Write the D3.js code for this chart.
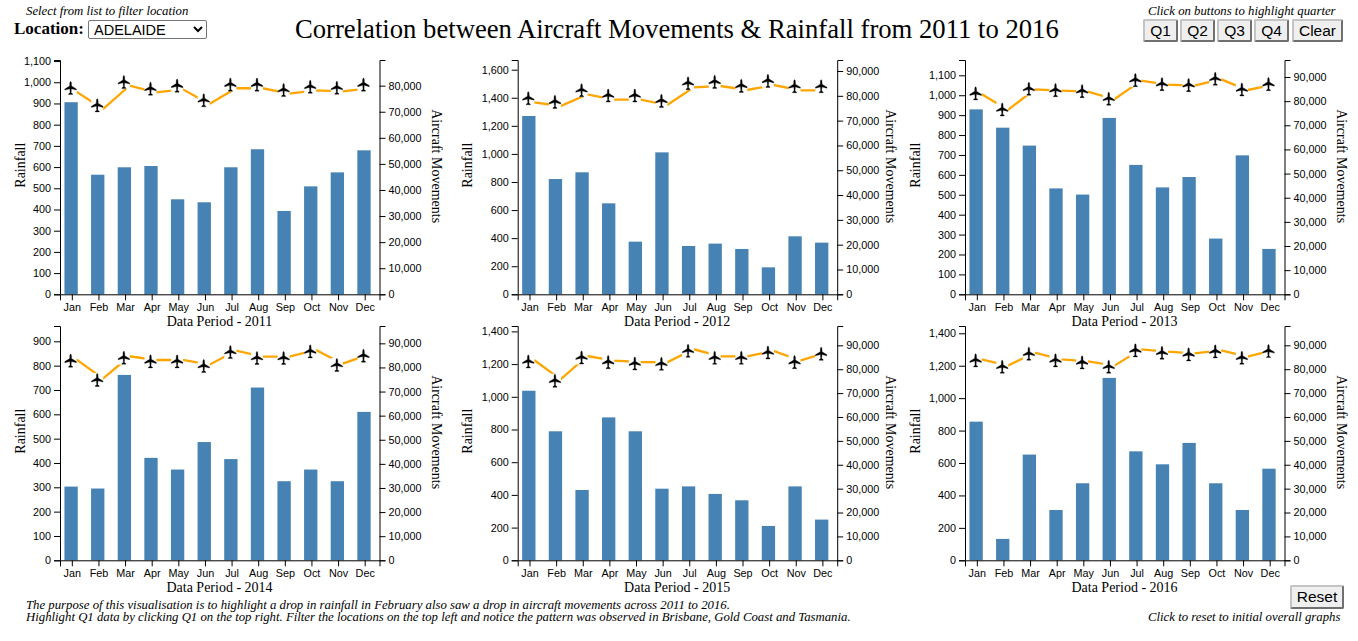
<!DOCTYPE html>
<html>
<head>
<meta charset="utf-8">
<script src="https://d3js.org/d3.v7.min.js"></script>
<style>
html,body{margin:0;padding:0;background:#fff;width:1358px;height:641px;overflow:hidden}
#chart{position:absolute;left:0;top:0}
.t{position:absolute;font-family:"Liberation Serif","Times New Roman",serif;white-space:nowrap;color:#000}
.i{font-style:italic;font-size:12.77px;line-height:12px}
button,select{position:absolute;font-family:"Liberation Sans",Arial,sans-serif;box-sizing:border-box;padding:0;margin:0}
button{background:#efefef;border:2px outset #c4c4c4;font-size:15.5px;color:#000;border-radius:2px}
select{font-size:14.5px;background:#fff;border:1px solid #767676;border-radius:2px;padding-left:1px;color:#000}
.tick text{font-family:"Liberation Sans",Arial,sans-serif;font-size:10.8px;fill:#000}
.lab{font-family:"Liberation Serif","Times New Roman",serif;font-size:14px;fill:#000}
</style>
</head>
<body>
<svg id="chart" width="1358" height="641"></svg>
<div class="t i" style="left:26px;top:5px">Select from list to filter location</div>
<div class="t" style="left:14px;top:19px;font-weight:bold;font-size:17px">Location:</div>
<select id="loc" style="left:88px;top:20px;width:119px;height:19px"><option>ADELAIDE</option></select>
<div class="t" id="title" style="left:295px;top:14px;font-size:26.67px">Correlation between Aircraft Movements &amp; Rainfall from 2011 to 2016</div>
<div class="t i" style="left:1148px;top:5px">Click on buttons to highlight quarter</div>
<button style="left:1143px;top:19px;width:35px;height:23px">Q1</button>
<button style="left:1180px;top:19px;width:35px;height:23px">Q2</button>
<button style="left:1217px;top:19px;width:35px;height:23px">Q3</button>
<button style="left:1254px;top:19px;width:35px;height:23px">Q4</button>
<button style="left:1292px;top:19px;width:51px;height:23px">Clear</button>
<button style="left:1290px;top:585px;width:54px;height:24px">Reset</button>
<div class="t i" style="left:26px;top:599px">The purpose of this visualisation is to highlight a drop in rainfall in February also saw a drop in aircraft movements across 2011 to 2016.</div>
<div class="t i" style="left:26px;top:611px">Highlight Q1 data by clicking Q1 on the top right. Filter the locations on the top left and notice the pattern was observed in Brisbane, Gold Coast and Tasmania.</div>
<div class="t i" style="left:1148px;top:611px">Click to reset to initial overall graphs</div>
<script>
const months = ["Jan","Feb","Mar","Apr","May","Jun","Jul","Aug","Sep","Oct","Nov","Dec"];
const years = [2011,2012,2013,2014,2015,2016];

const rainfall2011 = [906,564,599,605,448,434,599,684,393,509,575,679];
const rainfall2012 = [1270,821,869,648,375,1011,344,361,323,192,413,368];
const rainfall2013 = [929,837,747,532,501,886,650,537,589,280,698,228];
const rainfall2014 = [303,295,762,421,373,486,416,710,325,373,325,610];
const rainfall2015 = [1037,789,430,874,789,438,452,406,367,210,452,249];
const rainfall2016 = [855,132,652,310,475,1125,672,592,724,475,310,565];

const movements2011 = [77700,71050,80000,77440,78600,73000,79000,79000,76930,78200,77800,79000];
const movements2012 = [77370,75900,80600,78450,78450,76300,83420,83960,82350,84360,82210,82210];
const movements2013 = [82970,76340,84900,84340,83930,80760,88490,86830,86420,89040,84620,86830];
const movements2014 = [83370,75350,84610,83090,83090,81160,86960,84470,84470,87240,81570,85440];
const movements2015 = [83860,75770,85530,83580,83020,82880,88320,85390,85390,87630,83580,87070];
const movements2016 = [84140,81490,86930,84140,83300,81490,88320,87350,86650,87900,85250,88040];

const rainfallSeries = [rainfall2011,rainfall2012,rainfall2013,rainfall2014,rainfall2015,rainfall2016];
const movementSeries = [movements2011,movements2012,movements2013,movements2014,movements2015,movements2016];
const rainfallMax = [1105,1669,1177,963,1433,1445];
const movementMax = [89840,94440,97040,97190,98090,98090];

// layout
const panelLeft = [60,517.7,965,60,517.7,965];
const panelTop = [60,60,60,326,326,326];
const panelW = 319.5, panelH = 234.3;
const planeDy = [-3.7,-4.2,-0.6,1.3,1.4,1];
const rainLabelX = [21,468,916,21,468,916];
const moveLabelX = [436,889.6,1340.6,436,889.6,1340.6];

const PLANE = "M0,-6.5C.7,-6.5 .9,-5 .9,-3.5L.9,-2L5.8,1L5.8,2.1L.8,.8L.5,4.9L2,5.9L2,6.6L-2,6.6L-2,5.9L-.5,4.9L-.8,.8L-5.8,2.1L-5.8,1L-.9,-2L-.9,-3.5C-.9,-5 -.7,-6.5 0,-6.5Z";

const svg = d3.select("#chart");
years.forEach((year,i)=>{
  const g = svg.append("g").attr("transform",`translate(${panelLeft[i]},${panelTop[i]})`);
  const x = d3.scaleBand().domain(months).range([-1,panelW-1]);
  const xBar = d3.scaleBand().domain(months).range([-2.2,panelW-2.2]).paddingInner(0.5).paddingOuter(0.25);
  const yL = d3.scaleLinear().domain([0,rainfallMax[i]]).range([panelH,0]);
  const yR = d3.scaleLinear().domain([0,movementMax[i]]).range([panelH,0]);
  const lineX = m => x(m)+x.bandwidth()/2+4;
  const planeX = m => lineX(m)-5.7;

  g.selectAll("rect.bar").data(months).join("rect").attr("class","bar")
    .attr("x",m=>xBar(m)).attr("width",xBar.bandwidth())
    .attr("y",(m,k)=>yL(rainfallSeries[i][k]))
    .attr("height",(m,k)=>panelH-yL(rainfallSeries[i][k]))
    .attr("fill","steelblue");

  const ax = g.append("g").attr("transform",`translate(0,${panelH})`).call(d3.axisBottom(x).tickSizeOuter(0));
  ax.select(".domain").attr("d",`M0.5,6V0.5H${panelW+0.5}V6`);
  g.append("g").call(d3.axisLeft(yL));
  g.append("g").attr("transform",`translate(${panelW},0)`).call(d3.axisRight(yR));

  const line = d3.line().x(d=>lineX(d.m)).y(d=>yR(d.v));
  const pts = months.map((m,k)=>({m,v:movementSeries[i][k]}));
  g.append("path").attr("d",line(pts)).attr("fill","none").attr("stroke","orange").attr("stroke-width",2.3);

  const pl = g.selectAll("g.plane").data(pts).join("g").attr("class","plane")
    .attr("transform",d=>`translate(${planeX(d.m)},${yR(d.v)+planeDy[i]})`);
  pl.append("rect").attr("x",-6).attr("y",-7).attr("width",12).attr("height",14).attr("fill","#fff");
  pl.append("path").attr("d",PLANE).attr("fill","#000").attr("stroke","#000").attr("stroke-width",0.3);

  svg.append("text").attr("class","lab").attr("text-anchor","middle")
    .attr("transform",`translate(${rainLabelX[i]+4},${panelTop[i]+panelH/2-12}) rotate(-90)`).text("Rainfall");
  svg.append("text").attr("class","lab").attr("text-anchor","middle")
    .attr("transform",`translate(${moveLabelX[i]-4},${panelTop[i]+panelH/2-11}) rotate(90)`).text("Aircraft Movements");
  svg.append("text").attr("class","lab").attr("text-anchor","middle")
    .attr("x",panelLeft[i]+159.5).attr("y",panelTop[i]+panelH+32).text("Data Period - "+year);
});
</script>
</body>
</html>
